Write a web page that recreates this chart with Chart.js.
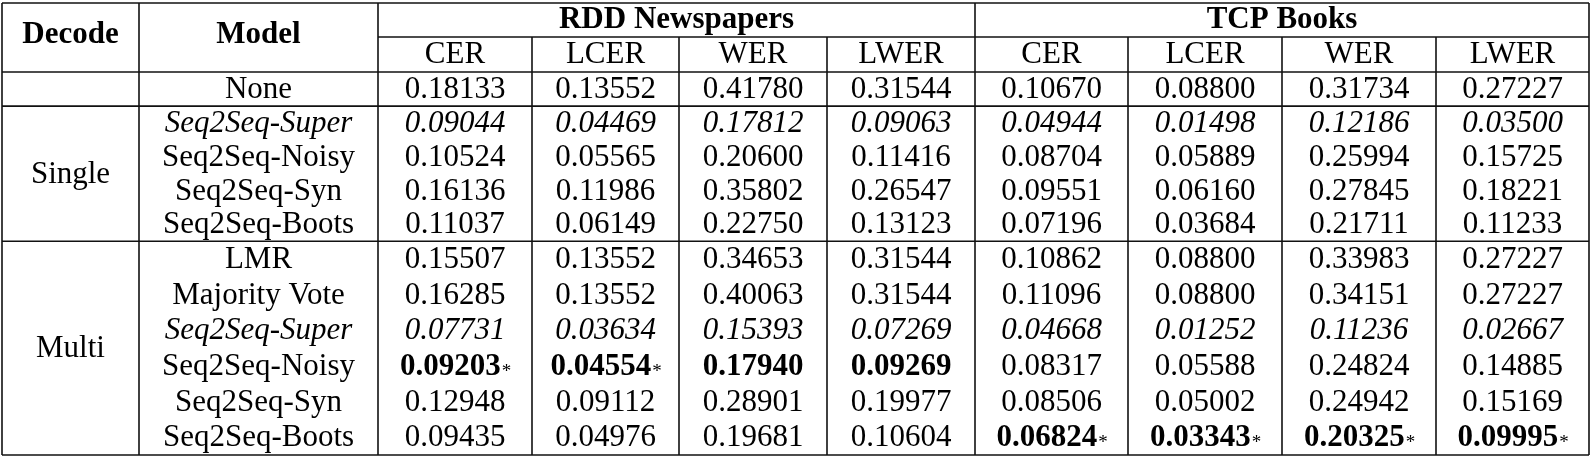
<!DOCTYPE html>
<html>
<head>
<meta charset="utf-8">
<script src="https://cdn.jsdelivr.net/npm/chart.js@4"></script>
<style>
  html, body { margin: 0; padding: 0; background: #fff; }
  #wrap { width: 1596px; height: 459px; position: relative; }
</style>
</head>
<body>
<div id="wrap"><canvas id="tbl"></canvas></div>
<script>
// ===== Data =====
const corpora = ["RDD Newspapers", "TCP Books"];
const metrics = ["CER", "LCER", "WER", "LWER"];
const decodeGroups = ["", "Single", "Multi"];
const groupSizes = [1, 4, 6];
const models = ["None", "Seq2Seq-Super", "Seq2Seq-Noisy", "Seq2Seq-Syn", "Seq2Seq-Boots",
  "LMR", "Majority Vote", "Seq2Seq-Super", "Seq2Seq-Noisy", "Seq2Seq-Syn", "Seq2Seq-Boots"];

const rddCER  = [0.18133, 0.09044, 0.10524, 0.16136, 0.11037, 0.15507, 0.16285, 0.07731, 0.09203, 0.12948, 0.09435];
const rddLCER = [0.13552, 0.04469, 0.05565, 0.11986, 0.06149, 0.13552, 0.13552, 0.03634, 0.04554, 0.09112, 0.04976];
const rddWER  = [0.41780, 0.17812, 0.20600, 0.35802, 0.22750, 0.34653, 0.40063, 0.15393, 0.17940, 0.28901, 0.19681];
const rddLWER = [0.31544, 0.09063, 0.11416, 0.26547, 0.13123, 0.31544, 0.31544, 0.07269, 0.09269, 0.19977, 0.10604];
const tcpCER  = [0.10670, 0.04944, 0.08704, 0.09551, 0.07196, 0.10862, 0.11096, 0.04668, 0.08317, 0.08506, 0.06824];
const tcpLCER = [0.08800, 0.01498, 0.05889, 0.06160, 0.03684, 0.08800, 0.08800, 0.01252, 0.05588, 0.05002, 0.03343];
const tcpWER  = [0.31734, 0.12186, 0.25994, 0.27845, 0.21711, 0.33983, 0.34151, 0.11236, 0.24824, 0.24942, 0.20325];
const tcpLWER = [0.27227, 0.03500, 0.15725, 0.18221, 0.11233, 0.27227, 0.27227, 0.02667, 0.14885, 0.15169, 0.09995];

// rows in italics (supervised upper bound) and best results
const italicModels = [1, 7];
const bestRow = [8, 8, 8, 8, 10, 10, 10, 10];
const starred = [true, true, false, false, true, true, true, true];

// ===== Layout =====
const colWidths = [137, 239, 154, 147, 148, 148, 153, 154, 154, 153];
const rowHeights = [34, 35, 34, 33.75, 33.75, 33.75, 33.75, 35.6, 35.6, 35.6, 35.6, 35.6, 35.6];
const FONT = '"Liberation Serif", "Times New Roman", serif';
const FS = 31;
const DY = 1; // text nudge below the row middle

const colEdges = [0];
colWidths.forEach(w => colEdges.push(colEdges[colEdges.length - 1] + w));
const rowEdges = [0];
rowHeights.forEach(h => rowEdges.push(rowEdges[rowEdges.length - 1] + h));
const colMid = i => (colEdges[i] + colEdges[i + 1]) / 2;
const rowMid = i => (rowEdges[i] + rowEdges[i + 1]) / 2;
const HEAD = 2; // header rows

const series = [rddCER, rddLCER, rddWER, rddLWER, tcpCER, tcpLCER, tcpWER, tcpLWER];

const datasets = series.map((vals, c) => ({
  label: corpora[Math.floor(c / 4)] + " " + metrics[c % 4],
  data: vals.map((v, r) => ({ x: colMid(c + 2), y: rowMid(r + HEAD), v: v, row: r })),
  pointRadius: 0,
  col: c
}));

// ===== Table plugin =====
const tablePlugin = {
  id: "table",
  afterDatasetsDraw(chart) {
    const ctx = chart.ctx;
    const xs = chart.scales.x, ys = chart.scales.y;
    const X = v => xs.getPixelForValue(v);
    const Y = v => ys.getPixelForValue(v);
    ctx.save();
    ctx.fillStyle = "#000";
    ctx.textAlign = "center";
    ctx.textBaseline = "middle";

    // lines
    ctx.strokeStyle = "#111";
    ctx.lineWidth = 1.6;
    const hline = (r, c0, c1) => {
      ctx.beginPath(); ctx.moveTo(X(colEdges[c0]), Y(rowEdges[r])); ctx.lineTo(X(colEdges[c1]), Y(rowEdges[r])); ctx.stroke();
    };
    const vline = (c, r0, r1) => {
      ctx.beginPath(); ctx.moveTo(X(colEdges[c]), Y(rowEdges[r0])); ctx.lineTo(X(colEdges[c]), Y(rowEdges[r1])); ctx.stroke();
    };
    const nRows = rowHeights.length;
    hline(0, 0, 10);
    hline(1, 2, 10);
    hline(2, 0, 10);
    let r = HEAD;
    groupSizes.forEach(g => { r += g; hline(r, 0, 10); });
    [0, 1, 2, 6, 10].forEach(c => vline(c, 0, nRows));
    [3, 4, 5, 7, 8, 9].forEach(c => vline(c, 1, nRows));

    // header
    ctx.font = "bold " + FS + "px " + FONT;
    ctx.fillText("Decode", X(colMid(0)), Y(rowEdges[1]) - 2);
    ctx.fillText("Model", X(colMid(1)), Y(rowEdges[1]) - 2);
    corpora.forEach((name, k) => {
      ctx.fillText(name, X((colEdges[2 + 4 * k] + colEdges[6 + 4 * k]) / 2), Y(rowMid(0)));
    });
    ctx.font = FS + "px " + FONT;
    for (let c = 0; c < 8; c++) ctx.fillText(metrics[c % 4], X(colMid(c + 2)), Y(rowMid(1)));

    // decode groups
    r = HEAD;
    groupSizes.forEach((g, k) => {
      ctx.fillText(decodeGroups[k], X(colMid(0)), Y((rowEdges[r] + rowEdges[r + g]) / 2) + DY);
      r += g;
    });
    // model names
    models.forEach((m, i) => {
      ctx.font = (italicModels.includes(i) ? "italic " : "") + FS + "px " + FONT;
      ctx.fillText(m, X(colMid(1)), Y(rowMid(i + HEAD)) + DY);
    });

    // values
    chart.data.datasets.forEach((ds, di) => {
      const meta = chart.getDatasetMeta(di);
      meta.data.forEach((pt, i) => {
        const d = ds.data[i];
        const txt = d.v.toFixed(5);
        const bold = bestRow[ds.col] === d.row;
        const ital = italicModels.includes(d.row);
        const y = pt.y + DY;
        ctx.font = (ital ? "italic " : "") + (bold ? "bold " : "") + FS + "px " + FONT;
        if (bold && starred[ds.col]) {
          const w = ctx.measureText(txt).width;
          ctx.font = "19px " + FONT;
          const ws = ctx.measureText("*").width;
          const x0 = pt.x - (w + ws) / 2;
          ctx.textAlign = "left";
          ctx.fillText("*", x0 + w + 1, y + 5);
          ctx.font = "bold " + FS + "px " + FONT;
          ctx.fillText(txt, x0, y);
          ctx.textAlign = "center";
        } else {
          ctx.fillText(txt, pt.x, y);
        }
      });
    });
    ctx.restore();
  }
};

new Chart(document.getElementById("tbl"), {
  type: "scatter",
  data: { datasets: datasets },
  options: {
    responsive: true,
    maintainAspectRatio: false,
    animation: false,
    layout: { padding: { left: 2, right: 7, top: 3, bottom: 4 } },
    plugins: { legend: { display: false }, tooltip: { enabled: false } },
    scales: {
      x: { type: "linear", display: false, min: 0, max: colEdges[colEdges.length - 1] },
      y: { type: "linear", display: false, reverse: true, min: 0, max: rowEdges[rowEdges.length - 1] }
    }
  },
  plugins: [tablePlugin]
});
</script>
</body>
</html>
